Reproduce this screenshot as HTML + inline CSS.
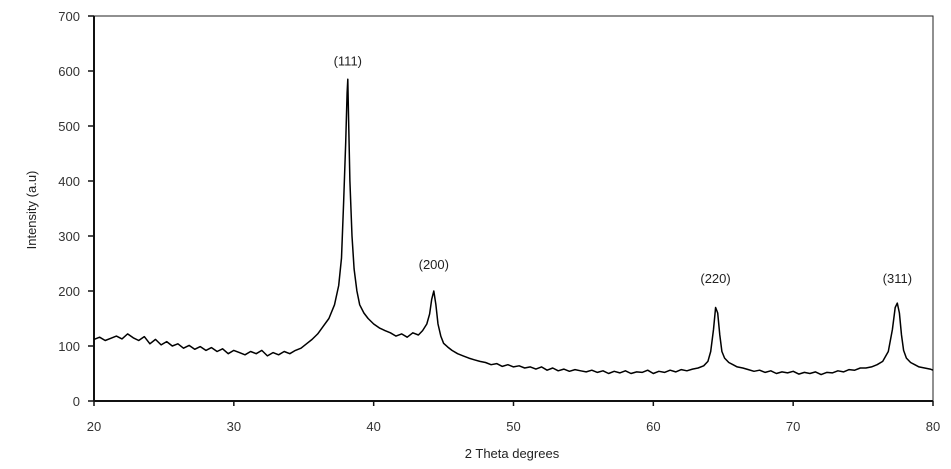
<!DOCTYPE html>
<html><head><meta charset="utf-8"><style>
html,body{margin:0;padding:0;background:#fff;}
svg{display:block;font-family:"Liberation Sans",Arial,sans-serif;}
</style></head><body>
<svg id="chart" width="951" height="469" viewBox="0 0 951 469">
<g id="axes"></g>
<g id="series"></g>
<g id="labels"></g>
<text x="512" y="458" text-anchor="middle" font-size="13" fill="#222">2 Theta degrees</text>
<text transform="translate(36,210) rotate(-90)" text-anchor="middle" font-size="13" fill="#222">Intensity (a.u)</text>
</svg>
<script>
const xTicks=[20,30,40,50,60,70,80];
const yTicks=[0,100,200,300,400,500,600,700];
const twoTheta=[20,20.4,20.8,21.2,21.6,22,22.4,22.8,23.2,23.6,24,24.4,24.8,25.2,25.6,26,26.4,26.8,27.2,27.6,28,28.4,28.8,29.2,29.6,30,30.4,30.8,31.2,31.6,32,32.4,32.8,33.2,33.6,34,34.4,34.8,35.2,35.6,36,36.4,36.8,37.2,37.5,37.7,37.85,38,38.1,38.15,38.2,38.3,38.45,38.6,38.8,39,39.3,39.6,40,40.4,40.8,41.2,41.6,42,42.4,42.8,43.2,43.5,43.8,44,44.15,44.3,44.45,44.6,44.8,45,45.3,45.6,46,46.4,46.8,47.2,47.6,48,48.4,48.8,49.2,49.6,50,50.4,50.8,51.2,51.6,52,52.4,52.8,53.2,53.6,54,54.4,54.8,55.2,55.6,56,56.4,56.8,57.2,57.6,58,58.4,58.8,59.2,59.6,60,60.4,60.8,61.2,61.6,62,62.4,62.8,63.2,63.6,63.9,64.1,64.3,64.45,64.6,64.75,64.9,65.1,65.4,65.7,66,66.4,66.8,67.2,67.6,68,68.4,68.8,69.2,69.6,70,70.4,70.8,71.2,71.6,72,72.4,72.8,73.2,73.6,74,74.4,74.8,75.2,75.6,76,76.4,76.8,77.1,77.3,77.45,77.6,77.75,77.9,78.1,78.4,78.7,79,79.4,79.8,80];
const intensity=[112,116,110,114,118,113,122,115,110,117,104,112,102,108,100,104,96,101,94,99,92,97,90,95,86,92,88,84,90,86,92,82,88,84,90,86,92,96,104,112,122,136,150,175,210,260,360,470,560,585,520,400,300,240,200,175,160,150,140,133,128,124,118,122,116,124,120,128,140,158,185,200,175,140,118,105,98,92,86,82,78,75,72,70,66,68,63,66,62,64,60,62,58,62,56,60,55,58,54,57,55,53,56,52,55,50,54,51,55,50,53,52,56,50,54,52,56,53,57,55,58,60,64,72,90,130,170,160,120,90,78,70,66,62,60,57,54,56,52,55,50,53,51,54,49,52,50,53,48,52,51,55,53,57,56,60,60,62,66,72,90,130,170,178,160,120,92,78,70,66,62,60,58,56];
const peakNames=["(111)","(200)","(220)","(311)"];
const peakX=[38.15,44.3,64.45,77.45];
const peakLabelY=[610,240,215,215];

const X0=94,X1=933,Y0=401,Y1=16;
const sx=v=>X0+(v-20)/(80-20)*(X1-X0);
const sy=v=>Y0-(v/700)*(Y0-Y1);
const NS="http://www.w3.org/2000/svg";
const axes=document.getElementById('axes');
function mk(parent,tag,attrs){const e=document.createElementNS(NS,tag);for(const k in attrs)e.setAttribute(k,attrs[k]);parent.appendChild(e);return e;}
const frame=mk(axes,'rect',{x:X0,y:Y1,width:X1-X0,height:Y0-Y1,fill:'none',stroke:'#222','stroke-width':1});


const xa=mk(axes,'line',{x1:X0,y1:Y0,x2:X1,y2:Y0,stroke:'#111','stroke-width':2});


const ya=mk(axes,'line',{x1:X0,y1:Y1,x2:X0,y2:Y0,stroke:'#111','stroke-width':2});


xTicks.forEach(t=>{
  const l=mk(axes,'line',{x1:sx(t),y1:Y0,x2:sx(t),y2:Y0+5,stroke:'#111','stroke-width':1.5});
  
  
  const tx=mk(axes,'text',{x:sx(t),y:Y0+30,'text-anchor':'middle','font-size':13,fill:'#333'});
  tx.textContent=t;
  
  
});
yTicks.forEach(t=>{
  const l=mk(axes,'line',{x1:X0-6,y1:sy(t),x2:X0,y2:sy(t),stroke:'#111','stroke-width':1.5});
  
  
  const tx=mk(axes,'text',{x:X0-14,y:sy(t)+5,'text-anchor':'end','font-size':13,fill:'#333'});
  tx.textContent=t;
  
  
});
let d='';
twoTheta.forEach((v,i)=>{d+=(i?'L':'M')+sx(v).toFixed(1)+','+sy(intensity[i]).toFixed(1);});
const p=mk(document.getElementById('series'),'path',{d:d,fill:'none',stroke:'#000','stroke-width':1.5,'stroke-linejoin':'round'});


const lab=document.getElementById('labels');
peakNames.forEach((n,i)=>{
  const t=mk(lab,'text',{x:sx(peakX[i]),y:sy(peakLabelY[i]),'text-anchor':'middle','font-size':13,fill:'#222'});
  t.textContent=n;
  
  
});
</script>
</body></html>
